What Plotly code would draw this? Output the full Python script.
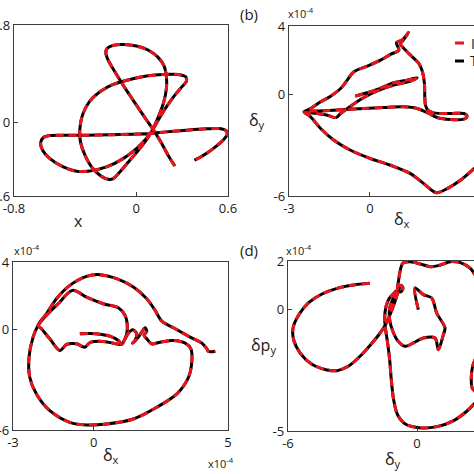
import plotly.graph_objects as go

# ---------------- data ----------------
# Panel (a): trajectory x–y (both series overlap)
a_x = [0.252, 0.208, 0.154, 0.099, 0.045, -0.021, -0.086, -0.140, -0.184, -0.199, -0.190, -0.151, -0.086,
       0.001, 0.077, 0.143, 0.182, 0.197, 0.197, 0.180, 0.149, 0.114, 0.077, 0.023, -0.042, -0.108, -0.151,
       -0.184, -0.238, -0.293, -0.336, -0.365, -0.369, -0.352, -0.308, -0.238, -0.151, -0.042, 0.066, 0.175,
       0.273, 0.323, 0.328, 0.295, 0.252, 0.197, 0.143, 0.106, 0.066, 0.001, -0.086, -0.195, -0.304, -0.391,
       -0.478, -0.565, -0.613, -0.626, -0.608, -0.565, -0.456, -0.325, -0.173, -0.021, 0.088, 0.197, 0.328,
       0.458, 0.545, 0.589, 0.595, 0.572, 0.524, 0.458, 0.415, 0.380]
a_y = [-0.354, -0.266, -0.143, -0.034, 0.062, 0.185, 0.308, 0.417, 0.513, 0.573, 0.609, 0.633, 0.641,
       0.628, 0.595, 0.535, 0.464, 0.376, 0.281, 0.171, 0.062, -0.039, -0.121, -0.212, -0.307, -0.403, -0.458,
       -0.463, -0.430, -0.362, -0.266, -0.157, -0.048, 0.062, 0.171, 0.253, 0.313, 0.354, 0.382, 0.395,
       0.395, 0.376, 0.341, 0.289, 0.226, 0.130, 0.021, -0.061, -0.130, -0.212, -0.294, -0.362, -0.395, -0.398,
       -0.362, -0.294, -0.225, -0.165, -0.121, -0.105, -0.102, -0.102, -0.099, -0.094, -0.089, -0.075, -0.061,
       -0.050, -0.048, -0.067, -0.094, -0.138, -0.192, -0.253, -0.285, -0.307]

# Panel (b): delta_x vs delta_y  (units of 1e-4)
b_x = [-0.543, -0.099, 0.272, 0.889, 1.383, 1.753, 1.506, 0.889, 0.272, -0.222, -0.716, -1.086, -1.247,
       -1.580, -1.951, -2.444, -2.198, -1.827, -1.457, -1.086, -0.840, -0.593, -0.099, 0.395, 0.765, 1.074,
       0.988, 1.198, 1.432, 1.259, 1.136, 1.259, 1.568, 1.815, 1.951, 2.025, 2.037, 2.062, 2.148, 2.370,
       2.988, 3.481, 3.605, 3.481, 2.988, 2.494, 2.185, 1.753, 1.259, 0.519, -0.222, -0.963, -1.704, -2.444,
       -2.198, -1.827, -1.333, -0.716, 0.025, 0.765, 1.506, 2.000, 2.469, 2.864, 3.358, 3.864, 4.346]
b_y = [-0.126, 0.071, 0.267, 0.660, 0.817, 0.955, 0.758, 0.523, 0.189, -0.204, -0.715, -1.147, -1.383,
       -1.245, -1.147, -1.049, -0.853, -0.460, -0.126, 0.326, 0.817, 1.308, 1.642, 1.996, 2.330, 2.585,
       3.018, 3.175, 3.607, 3.214, 2.939, 2.684, 2.193, 1.800, 1.308, 0.621, -0.165, -0.656, -0.951, -1.108,
       -1.147, -1.147, -1.304, -1.481, -1.501, -1.383, -1.147, -0.853, -0.754, -0.794, -0.853, -0.912, -0.990, -1.049,
       -1.344, -2.031, -2.719, -3.308, -3.799, -4.192, -4.684, -5.273, -5.803, -5.568, -5.076, -4.389, -3.701]

# Panel (c): delta_x vs delta p_x  (units of 1e-4)
c_x = [-0.512, -0.138, 0.235, 0.608, 0.919, 1.044, 1.168, 1.292, 1.454, 1.604, 1.541, 1.454, 1.666, 1.790,
       1.915, 1.977, 1.877, 1.977, 2.163, 2.474, 2.972, 3.408, 3.619, 3.656, 3.532, 3.097, 2.350, 1.479,
       0.484, -0.263, -0.885, -1.631, -2.129, -2.378, -2.403, -2.253, -2.067, -1.818, -1.320, -0.785, -0.263,
       0.359, 0.919, 1.168, 1.255, 1.168, 1.006, 0.733, 0.235, -0.138, -0.325, -0.636, -1.009, -1.258, -1.631,
       -1.942, -2.067, -1.756, -1.383, -0.885, -0.263, 0.235, 0.857, 1.479, 1.977, 2.288, 2.537, 2.972, 3.594,
       4.030, 4.216, 4.279, 4.527]
c_y = [-0.274, -0.255, -0.294, -0.414, -0.672, -0.911, -0.573, -0.235, -0.036, -0.274, -0.672, -0.831, -0.473,
       -0.175, 0.083, -0.115, -0.374, -0.573, -0.871, -0.771, -0.672, -0.831, -1.169, -1.865, -2.859, -3.853,
       -4.648, -5.344, -5.642, -5.702, -5.543, -4.847, -3.853, -2.859, -1.666, -0.473, 0.223, 0.720, 1.515,
       2.310, 1.913, 1.515, 1.276, 0.819, 0.024, -0.573, -0.911, -0.831, -0.712, -0.791, -1.070, -0.871, -0.911,
       -1.268, -0.573, 0.024, 0.223, 0.918, 1.813, 2.608, 3.145, 3.245, 3.006, 2.509, 1.813, 1.117, 0.481,
       0.083, -0.473, -0.831, -1.169, -1.328, -1.308]

# Panel (d): delta_y vs delta p_y  (units of 1e-4)
d_x = [-2.202, -2.946, -3.721, -4.419, -5.039, -5.504, -5.767, -5.736, -5.426, -4.884, -4.186, -3.721, -3.178,
       -2.636, -2.170, -1.783, -1.473, -1.240, -1.054, -0.930, -0.837, -0.744, -0.651, -0.775, -0.899, -0.853,
       -0.775, -0.667, -0.310, 0.155, 0.620, 1.085, 1.550, 2.016, 2.481, 2.651, 2.946, 3.178, 2.946, 2.605,
       2.527, 2.574, 2.946, 2.651, 2.326, 1.705, 0.930, 0.078, -0.543, -0.899, -1.085, -1.194, -1.271, -1.364,
       -1.457, -1.504, -1.442, -1.287, -1.054, -0.868, -1.085, -1.271, -1.271, -1.132, -0.899, -0.558, -0.171,
       0.295, 0.837, 0.992, 1.225, 1.302, 0.915, 0.682, 0.295, -0.093, 0.062]
d_y = [1.080, 1.012, 0.875, 0.641, 0.284, -0.223, -0.772, -1.253, -1.802, -2.255, -2.488, -2.515, -2.323,
       -1.912, -1.459, -1.047, -0.635, -0.182, 0.257, 0.600, 0.847, 0.998, 0.875, 0.724, 0.806, 1.218,
       1.629, 1.904, 1.973, 1.876, 1.767, 1.835, 1.973, 1.931, 1.698, 1.492, 1.080, -0.429, -1.527, -2.282,
       -2.763, -3.243, -3.586, -3.888, -4.176, -4.574, -4.821, -4.863, -4.712, -4.341, -3.723, -2.900, -2.076, -1.390,
       -0.841, -0.361, 0.120, 0.463, 0.696, 0.833, 0.504, 0.051, -0.429, -0.869, -1.280, -1.514, -1.376,
       -1.170, -1.170, -1.651, -1.033, -0.759, -0.141, 0.477, 0.614, 0.888, -0.004]

panels = [
    ("x", "y", a_x, a_y),
    ("x2", "y2", b_x, b_y),
    ("x3", "y3", c_x, c_y),
    ("x4", "y4", d_x, d_y),
]

W = H = 474
FONT = "Open Sans"
LINE = "#3c3c3c"


def px(x):
    return x / W


def py(y):
    return 1 - y / H


fig = go.Figure()
for xa, ya, xs, ys in panels:
    fig.add_trace(go.Scatter(x=xs, y=ys, xaxis=xa, yaxis=ya, mode="lines",
                             line=dict(color="black", width=3, shape="spline", smoothing=0.9),
                             showlegend=False, hoverinfo="skip"))
    fig.add_trace(go.Scatter(x=xs, y=ys, xaxis=xa, yaxis=ya, mode="lines",
                             line=dict(color="#e8141b", width=3, dash="8px,5px", shape="spline", smoothing=0.9),
                             showlegend=False, hoverinfo="skip"))


def axis(domain, rng, tickvals, ticktext, anchor, mirror=True):
    return dict(domain=domain, range=rng, tickvals=tickvals, ticktext=ticktext, anchor=anchor,
                automargin=False,
                showline=True, linecolor=LINE, linewidth=1.2, mirror=mirror,
                ticks="inside", ticklen=4, tickcolor=LINE, tickwidth=1,
                showgrid=False, zeroline=False,
                tickfont=dict(family=FONT, size=13, color="#1a1a1a"))


fig.update_layout(
    template="none",
    width=W, height=H, margin=dict(l=0, r=0, t=0, b=0, autoexpand=False),
    paper_bgcolor="white", plot_bgcolor="white",
    xaxis=axis([px(14), px(228)], [-0.8, 0.6], [-0.8, 0, 0.6], ["-0.8", "0", "0.6"], "y"),
    yaxis=axis([py(196), py(25)], [-0.6, 0.8], [-0.6, 0, 0.8], ["-0.6", "0", "0.8"], "x"),
    xaxis2=axis([px(289), 1], [-3, 3.863], [-3, 0], ["-3", "0"], "y2"),
    yaxis2=axis([py(196), py(26)], [-6, 4], [-6, 0, 4], ["-6", "0", "4"], "x2", mirror=False),
    xaxis3=axis([px(13), px(228)], [-3, 5], [-3, 0, 5], ["-3", "0", "5"], "y3"),
    yaxis3=axis([py(430), py(262)], [-6, 4], [-6, 0, 4], ["-6", "0", "4"], "x3"),
    xaxis4=axis([px(288), 1], [-6, 2.651], [-6, 0], ["-6", "0"], "y4"),
    yaxis4=axis([py(431), py(261)], [-5, 2], [-5, 0, 2], ["-5", "0", "2"], "x4", mirror=False),
)


def ann(text, x, y, size=13, xanchor="center"):
    fig.add_annotation(text=text, x=px(x), y=py(y), xref="paper", yref="paper",
                       showarrow=False, xanchor=xanchor, yanchor="middle",
                       font=dict(family=FONT, size=size, color="#1a1a1a"))


ann("x", 78, 221, 16)
ann("(b)", 249, 14, 15)
ann("x10<sup>-4</sup>", 301, 13, 11)
ann("δ<sub>x</sub>", 402, 219, 16)
ann("δ<sub>y</sub>", 257, 120, 16)
ann("x10<sup>-4</sup>", 27, 250, 11)
ann("x10<sup>-4</sup>", 221, 463, 11)
ann("δ<sub>x</sub>", 111, 455, 16)
ann("(d)", 249, 250, 15)
ann("x10<sup>-4</sup>", 299, 250, 11)
ann("δ<sub>y</sub>", 393, 459, 16)
ann("δp<sub>y</sub>", 263, 345, 16)

# legend of panel (b) (cut by the right edge)
fig.add_shape(type="line", xref="paper", yref="paper", x0=px(455), x1=px(464), y0=py(43), y1=py(43),
              line=dict(color="#e8141b", width=3))
fig.add_shape(type="line", xref="paper", yref="paper", x0=px(455), x1=px(464), y0=py(61), y1=py(61),
              line=dict(color="black", width=3))
ann("Integrator", 469, 43, 14, xanchor="left")
ann("Theory", 468, 61, 14, xanchor="left")

fig.write_html("out.html",
               config={"displayModeBar": False, "staticPlot": True},
               post_script="document.body.style.margin='0px';document.body.style.overflow='hidden';")
